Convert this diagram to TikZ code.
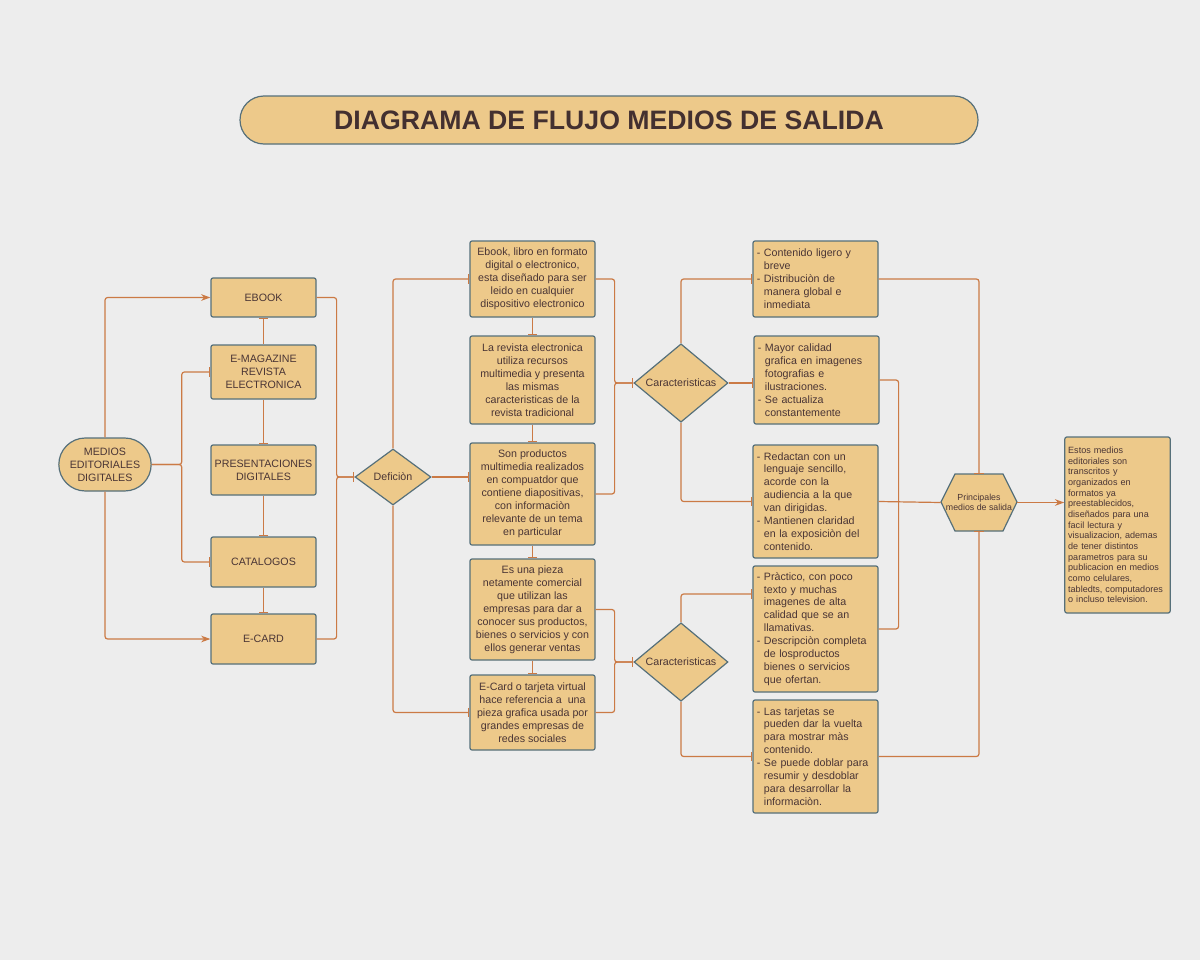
\documentclass[tikz,border=0pt]{standalone}
\usepackage{fontspec}
\setmainfont{Liberation Sans}
\usetikzlibrary{shapes.geometric,shapes.misc,arrows.meta}
\definecolor{bg}{HTML}{EDEDED}
\definecolor{fillc}{HTML}{EDC98A}
\definecolor{edgec}{HTML}{56707A}
\definecolor{linec}{HTML}{CB7A45}
\definecolor{txt}{HTML}{4A3535}
\newcommand\indt{\hphantom{- }}
\begin{document}
\begin{tikzpicture}[x=0.75pt,y=-0.75pt,
 base/.style={draw=edgec, fill=fillc, line width=0.9pt, text=txt, font=\fontsize{8}{9.7}\selectfont, inner sep=1pt, align=center},
 box/.style={base, rectangle, rounded corners=1.5pt},
 lbox/.style={box, minimum width=78.75pt},
 mbox/.style={box, minimum width=93.75pt},
 rbox/.style={box, minimum width=93.75pt, text width=88pt, align=left},
 dia/.style={base, diamond, inner sep=0pt},
 conn/.style={draw=linec, line width=0.9pt, rounded corners=2pt},
 arr/.style={conn, -{Stealth[length=7pt,width=5pt]}},
 tee/.style={conn, -{Bar[width=7pt]}},
]
\fill[bg] (0,0) rectangle (1200,960);

\node[base, rectangle, rounded corners=18pt, minimum width=553.5pt, minimum height=36pt, font=\fontsize{20}{24}\selectfont\bfseries, text=txt!90!black] (title) at (609,120) {DIAGRAMA DE FLUJO MEDIOS DE SALIDA};

\node[base, rounded rectangle, minimum width=71.25pt, minimum height=39.75pt] (med) at (105,464.5) {MEDIOS\\EDITORIALES\\DIGITALES};
\node[lbox, minimum height=29.25pt] (ebook) at (263.5,297.5) {EBOOK};
\node[lbox, minimum height=40.5pt] (emag) at (263.5,372) {E-MAGAZINE\\REVISTA\\ELECTRONICA};
\node[lbox, minimum height=37.5pt] (pres) at (263.5,470) {PRESENTACIONES\\DIGITALES};
\node[lbox, minimum height=37.5pt] (cata) at (263.5,562) {CATALOGOS};
\node[lbox, minimum height=37.5pt] (ecard) at (263.5,639) {E-CARD};

\node[dia, minimum width=57pt, minimum height=42pt] (def) at (393,477) {Deficiòn};

\node[mbox, minimum height=57pt] (b1) at (532.5,279) {Ebook, libro en formato\\digital o electronico,\\esta diseñado para ser\\leido en cualquier\\dispositivo electronico};
\node[mbox, minimum height=66pt] (b2) at (532.5,380) {La revista electronica\\utiliza recursos\\multimedia y presenta\\las mismas\\caracteristicas de la\\revista tradicional};
\node[mbox, minimum height=76.5pt] (b3) at (532.5,494) {Son productos\\multimedia realizados\\en compuatdor que\\contiene diapositivas,\\con informaciòn\\relevante de un tema\\en particular};
\node[mbox, minimum height=75.75pt] (b4) at (532.5,609.5) {Es una pieza\\netamente comercial\\que utilizan las\\empresas para dar a\\conocer sus productos,\\bienes o servicios y con\\ellos generar ventas};
\node[mbox, minimum height=56.25pt] (b5) at (532.5,712.5) {E-Card o tarjeta virtual\\hace referencia a \ una\\pieza grafica usada por\\grandes empresas de\\redes sociales};

\node[dia, minimum width=70.5pt, minimum height=42pt] (c1) at (681,383) {Caracteristicas};
\node[dia, minimum width=70.5pt, minimum height=42pt] (c2) at (681,662) {Caracteristicas};

\node[rbox, minimum height=57pt] (r1) at (815.5,279) {- Contenido ligero y\\\indt breve\\- Distribuciòn de\\\indt manera global e\\\indt inmediata};
\node[rbox, minimum height=66pt] (r2) at (816.5,380) {- Mayor calidad\\\indt grafica en imagenes\\\indt fotografias e\\\indt ilustraciones.\\- Se actualiza\\\indt constantemente};
\node[rbox, minimum height=84.75pt] (r3) at (815.5,501.5) {- Redactan con un\\\indt lenguaje sencillo,\\\indt acorde con la\\\indt audiencia a la que\\\indt van dirigidas.\\- Mantienen claridad\\\indt en la exposiciòn del\\\indt contenido.};
\node[rbox, minimum height=94.5pt] (r4) at (815.5,629) {- Pràctico, con poco\\\indt texto y muchas\\\indt imagenes de alta\\\indt calidad que se an\\\indt llamativas.\\- Descripciòn completa\\\indt de losproductos\\\indt bienes o servicios\\\indt que ofertan.};
\node[rbox, minimum height=84.75pt] (r5) at (815.5,756.5) {- Las tarjetas se\\\indt pueden dar la vuelta\\\indt para mostrar màs\\\indt contenido.\\- Se puede doblar para\\\indt resumir y desdoblar\\\indt para desarrollar la\\\indt informaciòn.};

\draw[draw=edgec, fill=fillc, line width=0.9pt] (941,502) -- (955,474) -- (1003,474) -- (1017,502) -- (1003,531) -- (955,531) -- cycle;
\node[minimum width=57pt, minimum height=42.75pt, inner sep=0pt, align=center, text=txt, font=\fontsize{6.6}{8}\selectfont] (hx) at (979,502.5) {Principales\\medios de salida};

\node[box, text width=74pt, align=left, minimum height=132pt, font=\fontsize{6.8}{8}\selectfont, inner sep=2.5pt] (note) at (1117.5,525) {Estos medios\\editoriales son\\transcritos y\\organizados en\\formatos ya\\preestablecidos,\\diseñados para una\\facil lectura y\\visualizacion, ademas\\de tener distintos\\parametros para su\\publicacion en medios\\como celulares,\\tabledts, computadores\\o incluso television.};

% left side
\draw[arr] (med.north) |- (ebook.west);
\draw[arr] (med.south) |- (ecard.west);
\draw[tee] (med.east) -- ++(30,0) |- (emag.west);
\draw[tee] (med.east) -- ++(30,0) |- (cata.west);
\draw[tee] (emag.north) -- (ebook.south);
\draw[tee] (emag.south) -- (pres.north);
\draw[tee] (pres.south) -- (cata.north);
\draw[tee] (cata.south) -- (ecard.north);
\draw[tee] (ebook.east) -- ++(20,0) |- (def.west);
\draw[conn] (ecard.east) -- ++(20,0) |- (def.west);

% definition
\draw[tee] (def.north) |- (b1.west);
\draw[tee] (def.east) -- (def.east -| b3.west);
\draw[tee] (def.south) |- (b5.west);
\draw[tee] (b1.south) -- (b2.north);
\draw[tee] (b2.south) -- (b3.north);
\draw[tee] (b3.south) -- (b4.north);
\draw[tee] (b4.south) -- (b5.north);

\draw[tee] (b1.east) -- ++(19,0) |- (c1.west);
\draw[conn] (b3.east) -- ++(19,0) |- (c1.west);
\draw[tee] (b4.east) -- ++(19,0) |- (c2.west);
\draw[conn] (b5.east) -- ++(19,0) |- (c2.west);

% characteristics
\draw[tee] (c1.north) |- (r1.west);
\draw[tee] (c1.east) -- (c1.east -| r2.west);
\draw[tee] (c1.south) |- (r3.west);
\draw[tee] (c2.north) |- (r4.west |- 0,594);
\draw[tee] (c2.south) |- (r5.west);

% to principales
\draw[tee] (r1.east) -| (hx.north);
\draw[tee] (r5.east) -| (hx.south);
\draw[conn] (r2.east) -- ++(19,0) |- (r4.east);
\draw[conn] (r3.east) -- (hx.west);
\draw[arr] (hx.east) -- (hx.east -| note.west);
\end{tikzpicture}
\end{document}
